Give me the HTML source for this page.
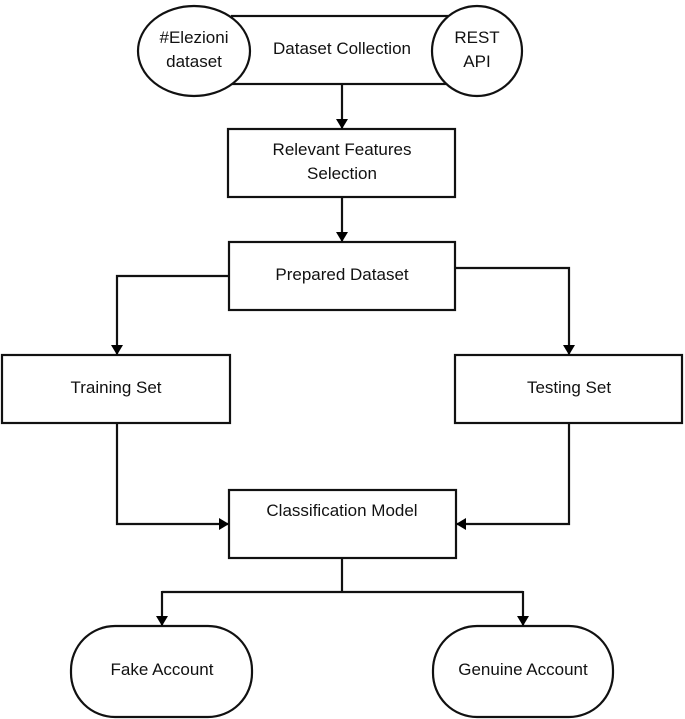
<!DOCTYPE html>
<html><head><style>
html,body{margin:0;padding:0;background:#fff;}
svg{display:block;}
text{font-family:"Liberation Sans",sans-serif;font-size:17px;fill:#111;text-anchor:middle;}
</style></head><body>
<svg width="685" height="719" viewBox="0 0 685 719" xmlns="http://www.w3.org/2000/svg">
<defs><marker id="a" markerWidth="10" markerHeight="12" refX="9" refY="6" orient="auto" markerUnits="userSpaceOnUse"><path d="M0,0 L10,6 L0,12 z" fill="#000"/></marker></defs>
<g fill="#fff" stroke="#111" stroke-width="2.2">
<rect x="232" y="16" width="215" height="68"/>
<ellipse cx="194" cy="51" rx="56" ry="45"/>
<ellipse cx="477" cy="51" rx="45" ry="45"/>
<rect x="228" y="129" width="227" height="68"/>
<rect x="229" y="242" width="226" height="68"/>
<rect x="2" y="355" width="228" height="68"/>
<rect x="455" y="355" width="227" height="68"/>
<rect x="229" y="490" width="227" height="68"/>
<rect x="71" y="626" width="181" height="91" rx="44" ry="44"/>
<rect x="433" y="626" width="180" height="91" rx="44" ry="44"/>
</g>
<g fill="none" stroke="#111" stroke-width="2.2">
<path d="M342 84 V128" marker-end="url(#a)"/>
<path d="M342 197 V241" marker-end="url(#a)"/>
<path d="M229 276 H117 V354" marker-end="url(#a)"/>
<path d="M455 268 H569 V354" marker-end="url(#a)"/>
<path d="M117 423 V524 H228" marker-end="url(#a)"/>
<path d="M569 423 V524 H457" marker-end="url(#a)"/>
<path d="M342 558 V592 M162 592 H523"/>
<path d="M162 591 V625" marker-end="url(#a)"/>
<path d="M523 591 V625" marker-end="url(#a)"/>
</g>
<text x="194" y="43">#Elezioni</text>
<text x="194" y="67">dataset</text>
<text x="342" y="54">Dataset Collection</text>
<text x="477" y="43">REST</text>
<text x="477" y="67">API</text>
<text x="342" y="155">Relevant Features</text>
<text x="342" y="179">Selection</text>
<text x="342" y="280">Prepared Dataset</text>
<text x="116" y="393">Training Set</text>
<text x="569" y="393">Testing Set</text>
<text x="342" y="516">Classification Model</text>
<text x="162" y="675">Fake Account</text>
<text x="523" y="675">Genuine Account</text>
</svg>
</body></html>
